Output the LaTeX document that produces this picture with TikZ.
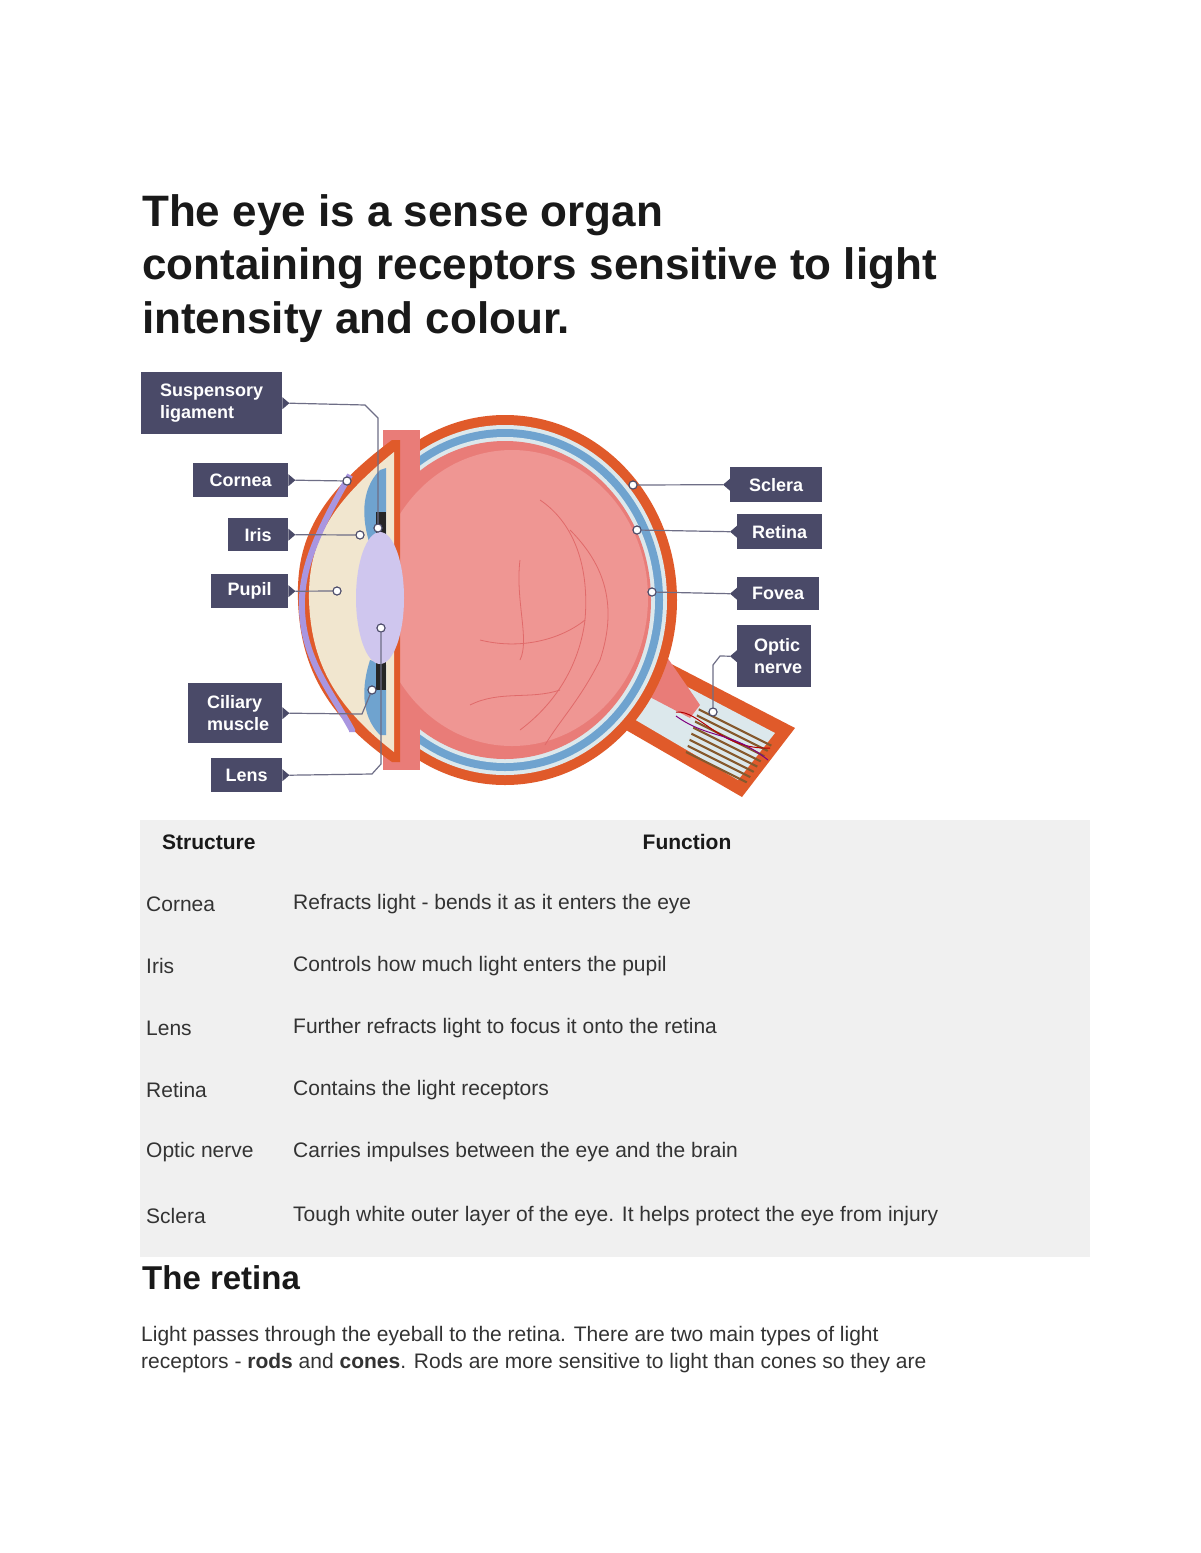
\documentclass[tikz,border=0pt]{standalone}
\usepackage{fontspec}
\setmainfont{Liberation Sans}
\definecolor{lab}{HTML}{4A4A68}
\definecolor{orng}{HTML}{E05A2A}
\definecolor{lblue}{HTML}{DCE8EC}
\definecolor{mblue}{HTML}{6FA3CF}
\definecolor{dpink}{HTML}{E97C78}
\definecolor{pink}{HTML}{EF9693}
\definecolor{cream}{HTML}{F1E6CF}
\definecolor{lav}{HTML}{CFC6EE}
\definecolor{purp}{HTML}{A996E0}
\definecolor{tbl}{HTML}{F0F0F0}
\definecolor{txt}{HTML}{333333}
\definecolor{vein}{HTML}{E06A6A}
\begin{document}
\begin{tikzpicture}[x=1pt,y=-1pt,
 lbl/.style={fill=lab,text=white,font=\fontsize{18}{21}\selectfont\bfseries,align=left,inner sep=0pt,anchor=north west},
 lead/.style={draw=lab!80,line width=1.2pt},
 dot/.style={circle,draw=lab,fill=white,line width=1pt,inner sep=0pt,minimum size=8pt},
 ttl/.style={font=\fontsize{44}{50}\selectfont\bfseries,text=black!90,anchor=west,inner sep=0pt},
 cell/.style={font=\fontsize{21}{24}\selectfont,text=txt,anchor=west,inner sep=0pt},
 vessel/.style={draw=vein,line width=0.8pt}]
\useasboundingbox (0,0) rectangle (1200,1553);
\fill[white] (0,0) rectangle (1200,1553);
% title
\node[ttl] (t1) at (142,215) {The eye is a sense organ};
\node[ttl] (t2) at (142,268) {containing receptors sensitive to light};
\node[ttl] (t3) at (142,322) {intensity and colour.};
% optic nerve
\fill[orng] (625,640) -- (795,728) -- (742,797) -- (600,715) -- cycle;
\fill[lblue] (640,662) -- (775,733) -- (738,780) -- (610,705) -- cycle;
\fill[dpink] (600,560) -- (700,705) -- (690,718) -- (560,650) -- cycle;
\begin{scope}
\clip (700,705) -- (775,740) -- (745,785) -- (685,755) -- cycle;
\foreach \i in {0,...,12} {\draw[brown!70!black,line width=2.2pt] (660,690+\i*7) -- (800,760+\i*7);}
\end{scope}
\draw[red!70!black,line width=1pt] (676,712) .. controls (700,710) and (720,750) .. (770,748);
\draw[violet,line width=1pt] (676,716) .. controls (710,740) and (730,730) .. (768,760);
% eyeball
\fill[orng] (505,600) ellipse [x radius=172,y radius=185];
\fill[lblue] (505,600) ellipse [x radius=162,y radius=175];
\fill[mblue] (505,600) ellipse [x radius=158,y radius=171];
\fill[lblue] (505,600) ellipse [x radius=150,y radius=163];
\fill[dpink] (505,600) ellipse [x radius=146,y radius=159];
\begin{scope}
\clip (383,400) rectangle (700,800);
\fill[dpink] (383,430) rectangle (420,770);
\fill[pink] (512,598) ellipse [x radius=136,y radius=148];
\end{scope}
% vessels
\draw[vessel] (540,500) .. controls (570,520) and (590,560) .. (585,620) .. controls (580,660) and (560,700) .. (520,730);
\draw[vessel] (585,620) .. controls (560,640) and (520,650) .. (480,640);
\draw[vessel] (570,530) .. controls (600,560) and (620,600) .. (600,660);
\draw[vessel] (560,690) .. controls (530,700) and (500,690) .. (470,705);
\draw[vessel] (600,660) .. controls (580,700) and (560,720) .. (545,745);
\draw[vessel] (520,560) .. controls (515,600) and (530,640) .. (520,660);
% cornea
\fill[orng] (392,440) .. controls (318,495) and (296,540) .. (298,600) .. controls (300,665) and (325,715) .. (392,762) -- (400,762) -- (400,440) -- cycle;
\fill[cream] (394,452) .. controls (328,505) and (308,545) .. (309,600) .. controls (311,660) and (333,705) .. (394,752) -- cycle;
\draw[purp,line width=6pt] (350,475) .. controls (318,530) and (300,570) .. (302,610) .. controls (304,660) and (330,690) .. (352,730) -- (352,732);
% iris & ciliary
\fill[mblue] (380,470) .. controls (360,490) and (362,520) .. (370,545) -- (386,535) -- (386,468) -- cycle;
\fill[mblue] (380,735) .. controls (360,715) and (362,685) .. (370,660) -- (386,665) -- (386,735) -- cycle;
\fill[black!85] (376,512) rectangle (386,540);
\fill[black!85] (376,662) rectangle (386,690);
\fill[lav] (380,598) ellipse [x radius=24,y radius=66];
% labels left
\node[lbl,minimum width=141pt,minimum height=62pt,text width=125pt] (sus) at (141,372) {\hspace*{11pt}Suspensory\\[1pt]\hspace*{11pt}ligament};
\node[lbl,minimum width=95pt,minimum height=34pt,align=center] (cor) at (193,463) {Cornea};
\node[lbl,minimum width=60pt,minimum height=33pt,align=center] (iri) at (228,518) {Iris};
\node[lbl,minimum width=77pt,minimum height=34pt,align=center] (pup) at (211,574) {Pupil};
\node[lbl,minimum width=94pt,minimum height=60pt,text width=80pt] (cil) at (188,683) {\hspace*{12pt}Ciliary\\[1pt]\hspace*{12pt}muscle};
\node[lbl,minimum width=71pt,minimum height=34pt,align=center] (len) at (211,758) {Lens};
% labels right
\node[lbl,minimum width=92pt,minimum height=35pt,align=center] (scl) at (730,467) {Sclera};
\node[lbl,minimum width=85pt,minimum height=35pt,align=center] (ret) at (737,514) {Retina};
\node[lbl,minimum width=82pt,minimum height=33pt,align=center] (fov) at (737,577) {Fovea};
\node[lbl,minimum width=74pt,minimum height=62pt,text width=60pt] (opt) at (737,625) {\hspace*{10pt}Optic\\[1pt]\hspace*{10pt}nerve};
% pointer triangles
\foreach \n in {sus,cor,iri,pup,cil,len} {\fill[lab] ([yshift=6pt]\n.east) -- ([xshift=7pt]\n.east) -- ([yshift=-6pt]\n.east) -- cycle;}
\foreach \n in {scl,ret,fov,opt} {\fill[lab] ([yshift=6pt]\n.west) -- ([xshift=-7pt]\n.west) -- ([yshift=-6pt]\n.west) -- cycle;}
% dots
\coordinate (dsus) at (378,528);
\node[dot] (dcor) at (347,481) {};
\node[dot] (diri) at (360,535) {};
\node[dot] (dpup) at (337,591) {};
\node[dot] (dcil) at (372,690) {};
\node[dot] (dlen) at (381,628) {};
\node[dot] (dscl) at (633,485) {};
\node[dot] (dret) at (637,530) {};
\node[dot] (dfov) at (652,592) {};
\node[dot] (dopt) at (713,712) {};
\draw[lead] ([xshift=7pt]sus.east) -- (365,405) -- (378,418) -- (dsus);
\node[dot] at (dsus) {};
\draw[lead] ([xshift=7pt]cor.east) -- (dcor);
\draw[lead] ([xshift=7pt]iri.east) -- (diri);
\draw[lead] ([xshift=7pt]pup.east) -- (dpup);
\draw[lead] ([xshift=7pt]cil.east) -- (362,714) -- (dcil);
\draw[lead] ([xshift=7pt]len.east) -- (372,774) -- (381,764) -- (dlen);
\draw[lead] ([xshift=-7pt]scl.west) -- (dscl);
\draw[lead] ([xshift=-7pt]ret.west) -- (dret);
\draw[lead] ([xshift=-7pt]fov.west) -- (dfov);
\draw[lead] ([xshift=-7pt]opt.west) -- (720,656) -- (713,665) -- (dopt);
\node[dot] at (dsus) {};
\node[dot] at (dcor) {};\node[dot] at (diri) {};\node[dot] at (dpup) {};\node[dot] at (dcil) {};\node[dot] at (dlen) {};
\node[dot] at (dscl) {};\node[dot] at (dret) {};\node[dot] at (dfov) {};\node[dot] at (dopt) {};
% table
\fill[tbl] (140,820) rectangle (1090,1257);
\node[cell,font=\fontsize{21}{24}\selectfont\bfseries,text=black!90] (h1) at (162,842) {Structure};
\node[cell,font=\fontsize{21}{24}\selectfont\bfseries,text=black!90,anchor=center] (h2) at (687,842) {Function};
\node[cell] (a1) at (146,904) {Cornea};
\node[cell] (b1) at (293,904) {Refracts light - bends it as it enters the eye};
\node[cell] (a2) at (146,966) {Iris};
\node[cell] (b2) at (293,966) {Controls how much light enters the pupil};
\node[cell] (a3) at (146,1028) {Lens};
\node[cell] (b3) at (293,1028) {Further refracts light to focus it onto the retina};
\node[cell] (a4) at (146,1090) {Retina};
\node[cell] (b4) at (293,1090) {Contains the light receptors};
\node[cell] (a5) at (146,1152) {Optic nerve};
\node[cell] (b5) at (293,1152) {Carries impulses between the eye and the brain};
\node[cell] (a6) at (146,1216) {Sclera};
\node[cell] (b6) at (293,1216) {Tough white outer layer of the eye. It helps protect the eye from injury};
% retina section
\node[ttl,font=\fontsize{33}{38}\selectfont\bfseries] (rt) at (142,1278) {The retina};
\node[cell] (p1) at (141,1336) {Light passes through the eyeball to the retina. There are two main types of light};
\node[cell] (p2) at (141,1363) {receptors - \textbf{rods} and \textbf{cones}. Rods are more sensitive to light than cones so they are};
\end{tikzpicture}
\end{document}
